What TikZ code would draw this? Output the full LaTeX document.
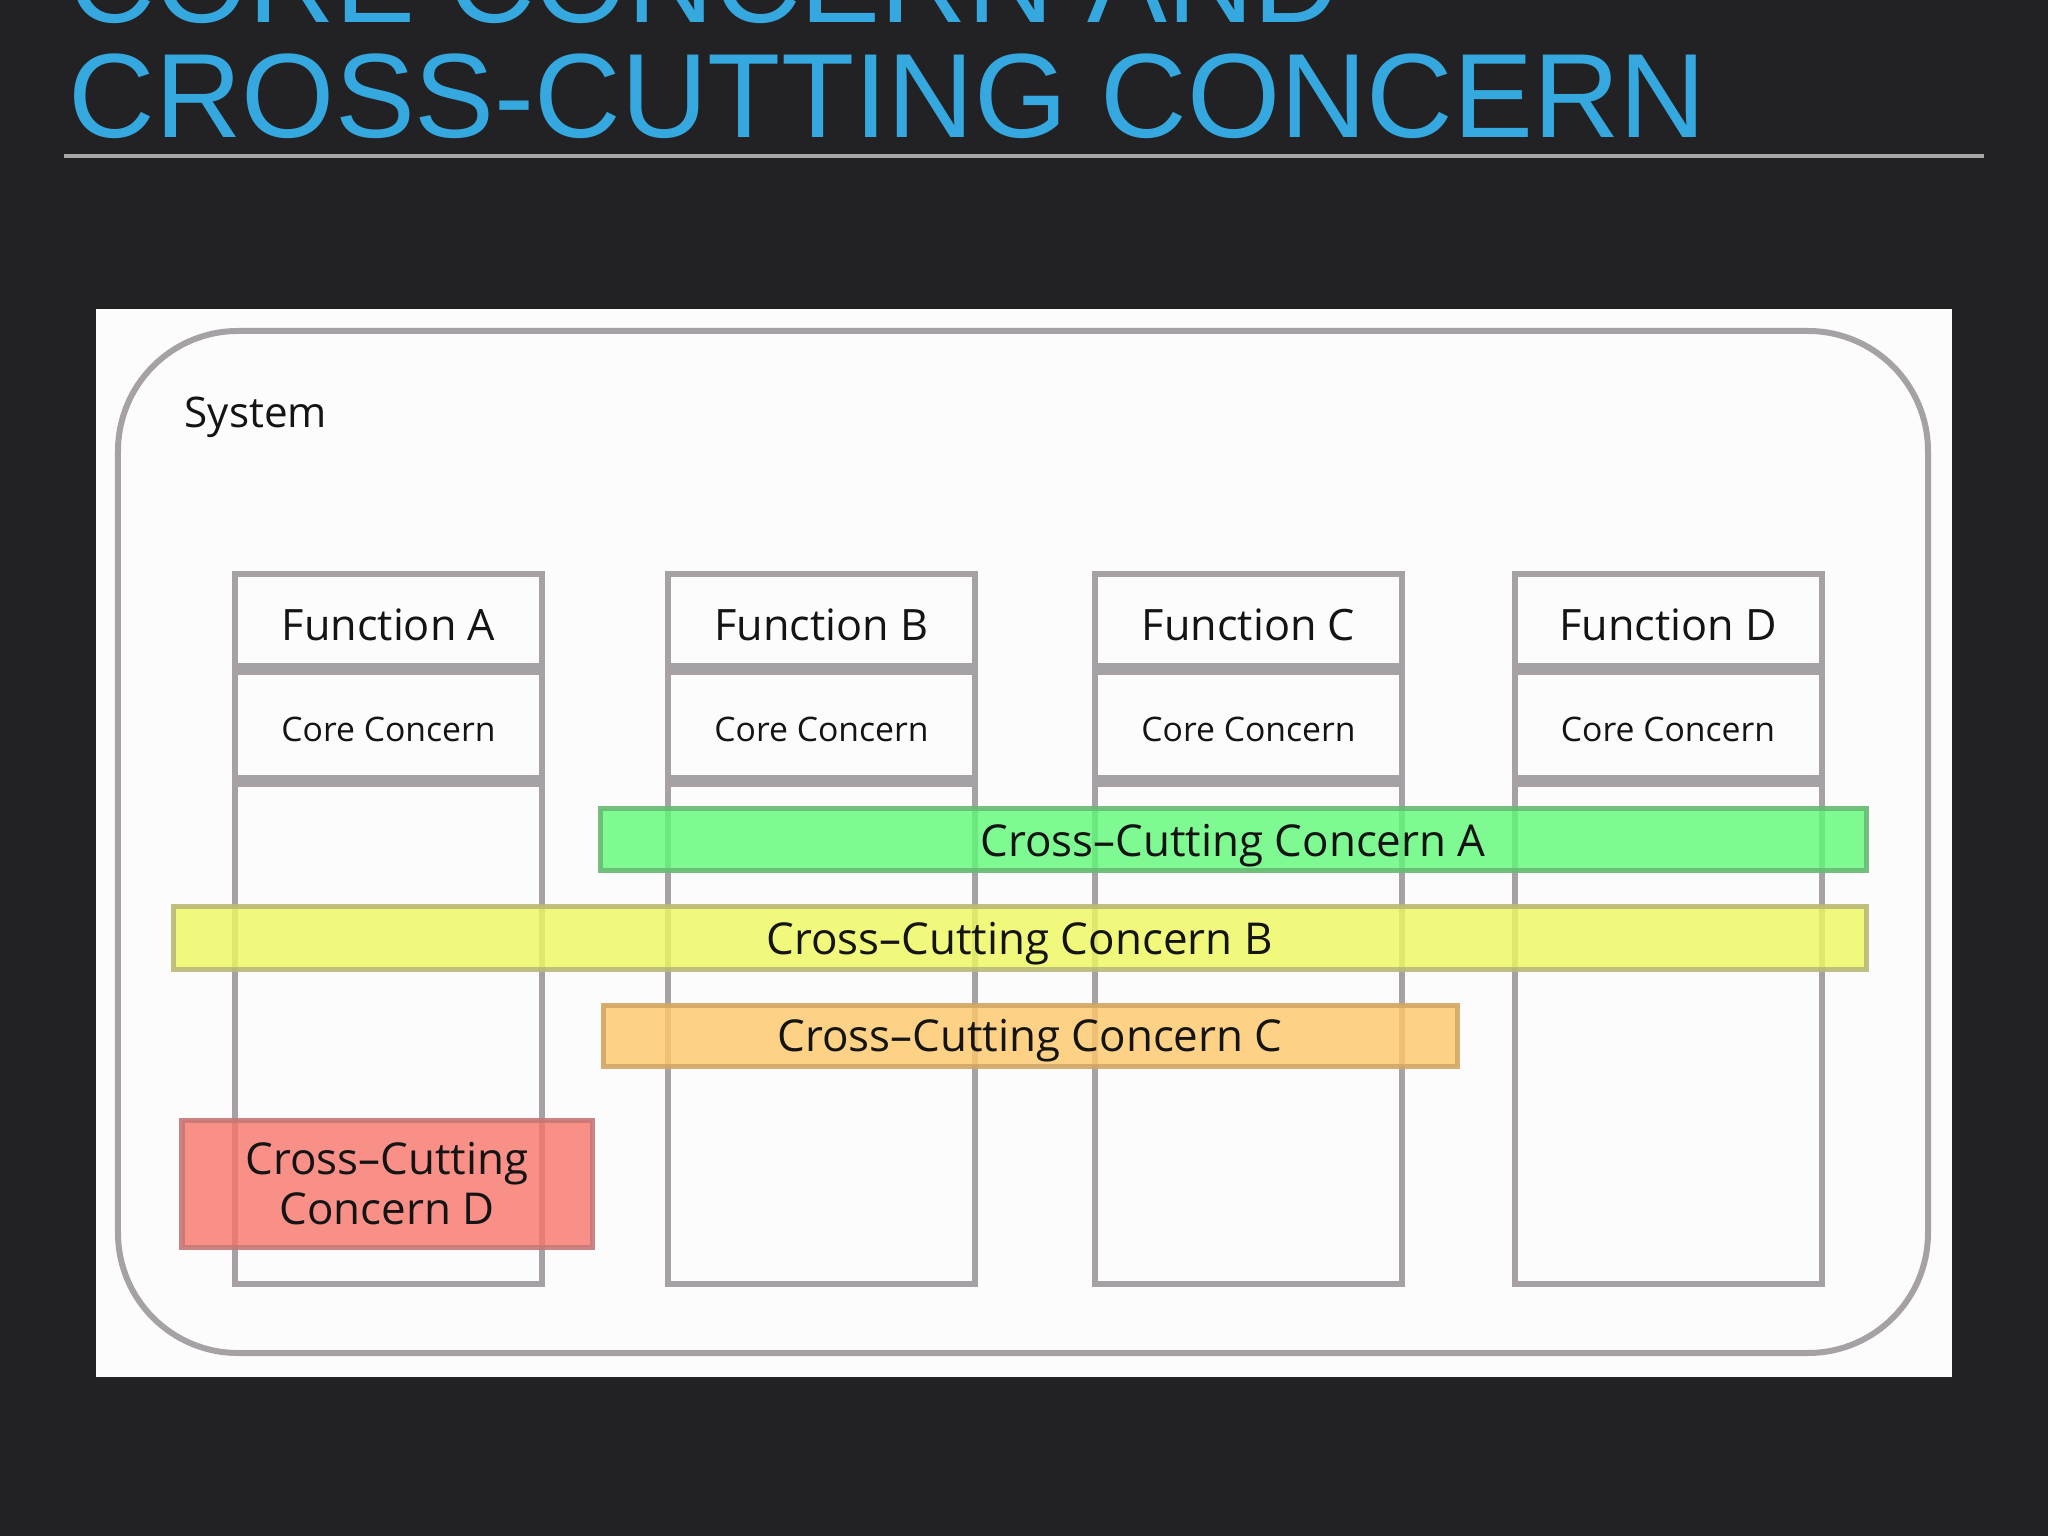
\documentclass[tikz,border=0pt]{standalone}
\usepackage{fontspec}
\setmainfont{Open Sans}
\newfontfamily\titlefont{Liberation Sans}
\usetikzlibrary{positioning}

\definecolor{slidebg}{RGB}{34,34,36}
\definecolor{panelbg}{RGB}{253,252,253}
\definecolor{titleblue}{RGB}{53,168,224}
\definecolor{rulegray}{RGB}{168,168,168}
\definecolor{boxline}{RGB}{165,161,165}
\definecolor{inktext}{RGB}{20,20,20}
\definecolor{ccgreen}{RGB}{96,249,118}
\definecolor{ccgreenline}{RGB}{104,186,114}
\definecolor{ccyellow}{RGB}{238,249,94}
\definecolor{ccyellowline}{RGB}{186,186,120}
\definecolor{ccorange}{RGB}{255,200,105}
\definecolor{ccorangeline}{RGB}{210,166,100}
\definecolor{ccred}{RGB}{249,117,107}
\definecolor{ccredline}{RGB}{198,120,118}

\tikzset{
  colbox/.style={draw=boxline,line width=0.06cm,fill=panelbg,minimum width=3.07cm,inner sep=0pt,text=inktext},
  funcbox/.style={colbox,minimum height=0.92cm,text height=0.40cm,text depth=0pt,font=\fontsize{12.3}{14}\selectfont},
  corebox/.style={colbox,minimum height=1.06cm,text height=0.32cm,text depth=0pt,font=\fontsize{9.6}{11}\selectfont},
  bodybox/.style={colbox,minimum height=5.00cm},
  ccbar/.style={line width=0.05cm,fill opacity=0.8,draw opacity=0.9,text opacity=1,inner sep=0pt,
    align=center,text=inktext,font=\fontsize{12.5}{14}\selectfont},
  ccline/.style={ccbar,text height=0.33cm,text depth=0pt},
}

\begin{document}
\begin{tikzpicture}
% slide background and white panel
\fill[slidebg] (0,0) rectangle (20.48,-15.36);
\useasboundingbox (0,0) rectangle (20.48,-15.36);
\fill[panelbg] (0.96,-3.09) rectangle (19.52,-13.77);

% title
\node[anchor=base west,inner sep=0pt,text=titleblue,font=\titlefont\fontsize{34.1}{40}\selectfont] (title2) at (0.68,-1.38) {CROSS-CUTTING CONCERN};
\node[anchor=base west,inner sep=0pt,text=titleblue,font=\titlefont\fontsize{34.1}{40}\selectfont] (title1) at (0.68,-0.23) {CORE CONCERN AND};
\draw[rulegray,line width=0.04cm] (0.64,-1.56) -- (19.84,-1.56);

% system
\draw[boxline,line width=0.06cm,rounded corners=1.2cm] (1.18,-3.31) rectangle (19.28,-13.53);
\node[anchor=base west,inner sep=0pt,text=inktext,font=\fontsize{12}{14}\selectfont] (sys) at (1.84,-4.28) {System};

% functions
\foreach \n/\x in {A/3.885,B/8.215,C/12.485,D/16.68}{
  \node[funcbox,anchor=north] (f\n) at (\x,-5.71) {Function \n};
  \node[corebox,below=0pt of f\n] (c\n) {Core Concern};
  \node[bodybox,below=0pt of c\n] (b\n) {};
}

% cross-cutting concerns
\node[ccline,draw=ccgreenline,fill=ccgreen,minimum width=12.66cm,minimum height=0.62cm] (ccA) at (12.33,-8.40) {Cross--Cutting Concern A};
\node[ccline,draw=ccyellowline,fill=ccyellow,minimum width=16.93cm,minimum height=0.63cm] (ccB) at (10.195,-9.375) {Cross--Cutting Concern B};
\node[ccline,draw=ccorangeline,fill=ccorange,minimum width=8.54cm,minimum height=0.61cm] (ccC) at (10.30,-10.355) {Cross--Cutting Concern C};
\node[ccbar,draw=ccredline,fill=ccred,minimum width=4.10cm,minimum height=1.27cm] (ccD) at (3.87,-11.835) {Cross--Cutting\\Concern D};
\end{tikzpicture}
\end{document}
